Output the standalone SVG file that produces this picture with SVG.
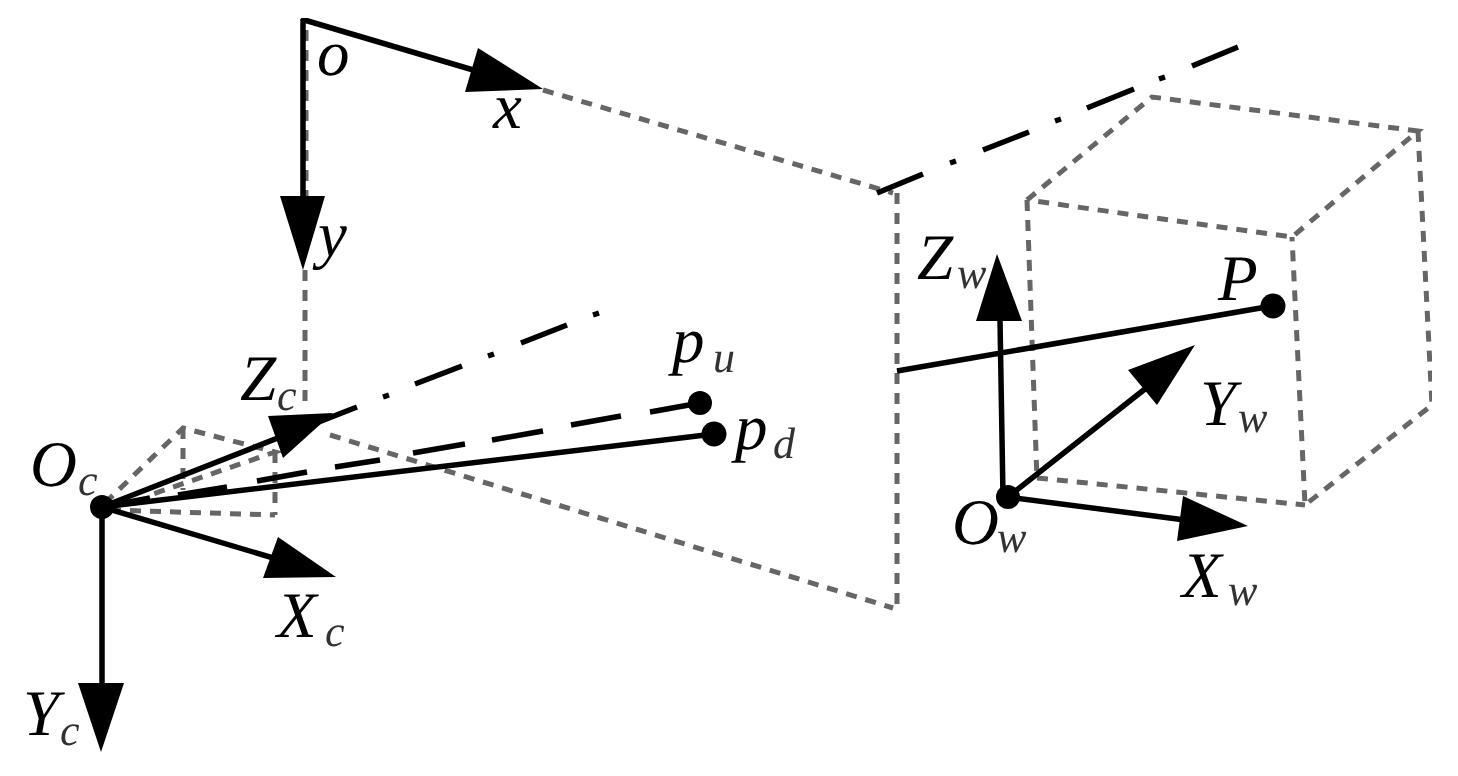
<svg xmlns="http://www.w3.org/2000/svg" width="1458" height="776" viewBox="0 0 1458 776">
<defs><filter id="soft" x="0" y="0" width="100%" height="100%"><feGaussianBlur stdDeviation="0.7"/></filter></defs>
<style>
.d{fill:none;stroke:#666;stroke-width:5;stroke-dasharray:11 9}
.a{fill:none;stroke:#000;stroke-width:5.5}
.h{fill:#000;stroke:none}
</style>
<rect width="1458" height="776" fill="#fff"/>
<g filter="url(#soft)">
<g id="connectors">
<g id="dashed">
<path class="d" d="M306 30V196"/>
<path class="d" d="M543 90L893 193"/>
<path class="d" d="M305 270V408"/>
<path class="d" d="M330 435L893 608"/>
<path class="d" d="M897 193V606"/>
<path class="d" d="M1027 200L1152 97L1418 131L1292 237L1027 200"/>
<path class="d" d="M1418 131L1432 405L1305 505L1292 237"/>
<path class="d" d="M1027 200L1037 480"/>
<path class="d" d="M1037 478L1305 505"/>
<path class="d" d="M105 503L183 428L275 452L150 495"/>
<path class="d" d="M183 428V490"/>
<path class="d" d="M275 452V515"/>
<path class="d" d="M110 510L275 515"/>
</g>
<path class="a" d="M303 19V200M301 19L480 72"/>
<polygon class="h" points="280,196 325,196 303,270"/>
<polygon class="h" points="478,48 465,92 543,89"/>
<path class="a" d="M877 193L923 174M983 150L1029 132M1087 108L1134 89M1192 66L1238 47"/>
<path class="a" d="M950 163L956 161M1055 121L1061 119M1159 79L1165 77"/>
<path class="a" d="M102 507L357 407M415 384L462 366M521 343L567 325"/>
<path class="a" d="M383 397L389 395M488 356L494 354M593 315L599 313"/>
<path class="a" d="M102 507L714 434M102 507V690M102 507L280 560"/>
<path class="a" d="M102 507L150 498M178 495L227 487M257 481L307 472M335 467L380 460M413 453L465 444M492 440L543 431M571 425L621 416M650 412L700 403"/>
<polygon class="h" points="268,416 333,413 283,458"/>
<polygon class="h" points="78,683 124,683 101,752"/>
<polygon class="h" points="278,537 263,578 336,577"/>
<path class="a" d="M1003 497L1000 320M1008 497L1150 385M1008 497L1185 520M897 371L1272 306"/>
<polygon class="h" points="976,321 1022,321 997,254"/>
<polygon class="h" points="1128,370 1157,405 1195,345"/>
<polygon class="h" points="1183,496 1177,541 1248,526"/>
</g>
<g id="node-Oc"><circle cx="102" cy="507" r="12"/><text font-family="Liberation Serif" font-style="italic" font-size="65" text-rendering="geometricPrecision" x="30" y="486">O</text><text font-family="Liberation Serif" font-style="italic" text-rendering="geometricPrecision" x="78" y="495" font-size="44" fill="#333">c</text></g>
<g id="node-pu"><circle cx="700" cy="403" r="12"/><text font-family="Liberation Serif" font-style="italic" font-size="65" text-rendering="geometricPrecision" x="672" y="362">p</text><text font-family="Liberation Serif" font-style="italic" text-rendering="geometricPrecision" x="713" y="372" font-size="44" fill="#333">u</text></g>
<g id="node-pd"><circle cx="714" cy="434" r="12.5"/><text font-family="Liberation Serif" font-style="italic" font-size="65" text-rendering="geometricPrecision" x="735" y="449">p</text><text font-family="Liberation Serif" font-style="italic" text-rendering="geometricPrecision" x="773" y="458" font-size="44" fill="#333">d</text></g>
<g id="node-Ow"><circle cx="1008" cy="497" r="12"/><text font-family="Liberation Serif" font-style="italic" font-size="65" text-rendering="geometricPrecision" x="952" y="544">O</text><text font-family="Liberation Serif" font-style="italic" text-rendering="geometricPrecision" x="997" y="552" font-size="44" fill="#333">w</text></g>
<g id="node-P"><circle cx="1273" cy="306" r="12.5"/><text font-family="Liberation Serif" font-style="italic" font-size="65" text-rendering="geometricPrecision" x="1218" y="300">P</text></g>
<g id="labels" font-family="Liberation Serif" font-style="italic" font-size="65" text-rendering="geometricPrecision">
<text x="317" y="75">o</text>
<text x="493" y="128">x</text>
<text x="318" y="256">y</text>
<text x="240" y="400">Z</text><text x="277" y="410" font-size="44" fill="#333">c</text>
<text x="23" y="735">Y</text><text x="60" y="745" font-size="44" fill="#333">c</text>
<text x="277" y="637">X</text><text x="325" y="646" font-size="44" fill="#333">c</text>
<text x="917" y="279">Z</text><text x="957" y="288" font-size="44" fill="#333">w</text>
<text x="1200" y="425">Y</text><text x="1238" y="432" font-size="44" fill="#333">w</text>
<text x="1182" y="597">X</text><text x="1228" y="605" font-size="44" fill="#333">w</text>
</g>
</g>
</svg>
